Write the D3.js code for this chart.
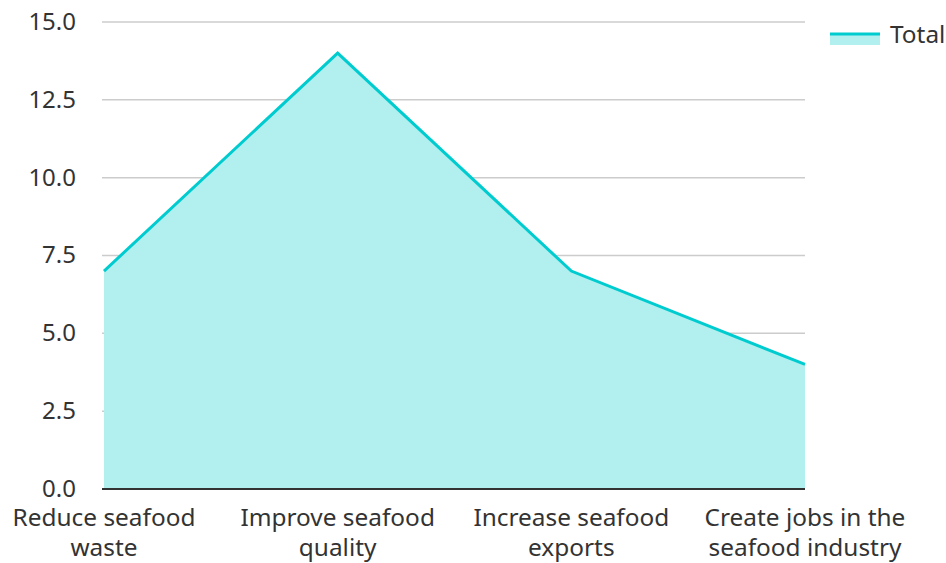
<!DOCTYPE html>
<html>
<head>
<meta charset="utf-8">
<script src="https://cdn.jsdelivr.net/npm/d3@7"></script>
<style>
  body { margin: 0; background: #fff; }
  svg { font-family: "Noto Sans", "Open Sans", sans-serif; }
</style>
</head>
<body>
<div id="chart"></div>
<script>
const categories = [
    ["Reduce seafood", "waste"],
    ["Improve seafood", "quality"],
    ["Increase seafood", "exports"],
    ["Create jobs in the", "seafood industry"]
];
const totals = [7, 14, 7, 4];
const yTicks = [0, 2.5, 5, 7.5, 10, 12.5, 15];
const seriesName = "Total";

const width = 946, height = 563;
const margin = {top: 22, right: 141, bottom: 74, left: 104};

const svg = d3.select("#chart")
    .append("svg")
    .attr("width", width)
    .attr("height", height);

const x = d3.scalePoint()
    .domain(d3.range(categories.length))
    .range([margin.left, width - margin.right]);

const y = d3.scaleLinear()
    .domain([0, 15])
    .range([height - margin.bottom, margin.top]);

// gridlines + y labels
const grid = svg.append("g");
grid.selectAll("line")
    .data(yTicks.filter(d => d > 0))
    .join("line")
    .attr("x1", margin.left - 2)
    .attr("x2", width - margin.right)
    .attr("y1", d => y(d))
    .attr("y2", d => y(d))
    .attr("stroke", "#cccccc")
    .attr("stroke-width", 1.5);

grid.selectAll("text")
    .data(yTicks)
    .join("text")
    .attr("x", 76)
    .attr("y", d => y(d))
    .attr("dy", "0.33em")
    .attr("text-anchor", "end")
    .attr("font-size", 24)
    .attr("fill", "#333")
    .text(d => d.toFixed(1));

// area + line
const area = d3.area()
    .x((d, i) => x(i))
    .y0(y(0))
    .y1(d => y(d));

const line = d3.line()
    .x((d, i) => x(i))
    .y(d => y(d));

svg.append("path")
    .datum(totals)
    .attr("d", area)
    .attr("fill", "#b2efef");

svg.append("path")
    .datum(totals)
    .attr("d", line)
    .attr("fill", "none")
    .attr("stroke", "#00ccd0")
    .attr("stroke-width", 3);

// baseline
svg.append("line")
    .attr("x1", margin.left - 2)
    .attr("x2", width - margin.right)
    .attr("y1", y(0))
    .attr("y2", y(0))
    .attr("stroke", "#333")
    .attr("stroke-width", 2);

// x labels
const xl = svg.append("g").selectAll("text")
    .data(categories)
    .join("text")
    .attr("text-anchor", "middle")
    .attr("font-size", 24.4)
    .attr("fill", "#333");
xl.each(function (d, i) {
    d3.select(this).selectAll("tspan")
        .data(d)
        .join("tspan")
        .attr("x", x(i))
        .attr("y", (t, j) => 526 + j * 30)
        .text(t => t);
});

// legend
const lg = svg.append("g");
lg.append("rect")
    .attr("x", 830).attr("y", 34)
    .attr("width", 50).attr("height", 11)
    .attr("fill", "#b2efef");
lg.append("line")
    .attr("x1", 830).attr("x2", 880)
    .attr("y1", 34).attr("y2", 34)
    .attr("stroke", "#00ccd0")
    .attr("stroke-width", 3);
lg.append("text")
    .attr("x", 890).attr("y", 34)
    .attr("dy", "0.35em")
    .attr("font-size", 24.4)
    .attr("fill", "#333")
    .text(seriesName);
</script>
</body>
</html>
